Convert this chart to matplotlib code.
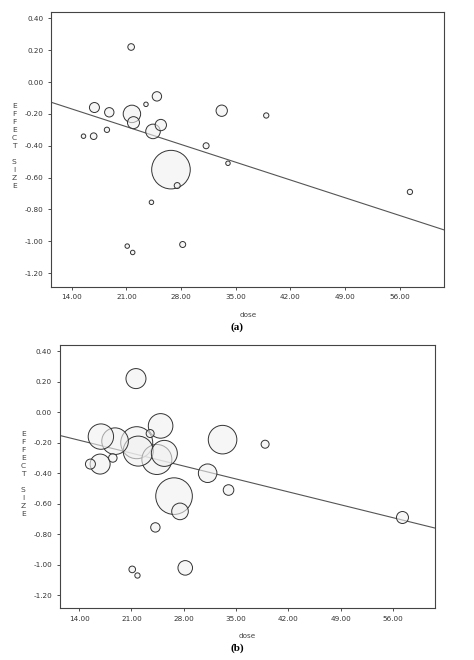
import matplotlib.pyplot as plt
import numpy as np

# study doses and effect sizes (same studies in both panels)
dose = [21.6, 16.9, 18.8, 23.5, 24.9, 21.7, 21.9, 25.4, 24.4, 18.5, 15.5, 16.8,
        33.2, 38.9, 31.2, 34.0, 26.7, 27.5, 24.2, 21.1, 21.8, 28.2, 57.3]
effect = [0.22, -0.16, -0.19, -0.14, -0.09, -0.20, -0.255, -0.27, -0.31, -0.30, -0.34, -0.34,
          -0.18, -0.21, -0.40, -0.51, -0.55, -0.65, -0.755, -1.03, -1.07, -1.02, -0.69]

# bubble weights (relative) for panel a and panel b
weight_a = [11, 25, 22, 5, 22, 76, 36, 32, 53, 7, 5, 11,
            32, 7, 9, 5, 372, 9, 5, 5, 5, 9, 7]
weight_b = [100, 161, 177, 16, 151, 256, 225, 169, 225, 18, 25, 100,
            204, 16, 86, 28, 335, 69, 22, 11, 7, 53, 36]

# meta-regression lines: intercept, slope
fit_a = (0.054, -0.01593)
fit_b = (-0.015, -0.01207)

xticks = [14, 21, 28, 35, 42, 49, 56]
yticks = [0.40, 0.20, 0.00, -0.20, -0.40, -0.60, -0.80, -1.00, -1.20]

fig = plt.figure(figsize=(4.74, 6.6), dpi=100)

panels = [
    ([0.1083, 0.5656, 0.829, 0.4158], weight_a, fit_a, '(a)', 0.504, 0.522, 0.030),
    ([0.1259, 0.0783, 0.7925, 0.3985], weight_b, fit_b, '(b)', 0.018, 0.036, 0.049),
]

for rect, w, fit, tag, tag_y, dose_y, ylab_x in panels:
    ax = fig.add_axes(rect)
    w = np.array(w, dtype=float)
    order = np.argsort(-w)
    s = w * (1.44 ** 2)  # weight ~ radius^2 (px) -> points^2
    ax.scatter(np.array(dose)[order], np.array(effect)[order], s=s[order],
               facecolor=(0.94, 0.94, 0.94, 0.6), edgecolor='#333333',
               linewidths=0.7, zorder=3)

    xl = np.array([11.38, 61.7])
    ax.plot(xl, fit[0] + fit[1] * xl, color='#555555', lw=0.8, zorder=2)

    ax.set_xlim(xl)
    ax.set_ylim(-1.285, 0.438)
    ax.set_xticks(xticks)
    ax.set_xticklabels(['%.2f' % t for t in xticks])
    ax.set_yticks(yticks)
    ax.set_yticklabels(['%.2f' % t for t in yticks])
    ax.tick_params(direction='out', length=2.5, width=0.6, labelsize=5.2,
                   colors='#333333', pad=3)
    for sp in ax.spines.values():
        sp.set_color('#444444')
        sp.set_linewidth(0.8)

    fig.text(rect[0] + rect[2] * 0.5, dose_y, 'dose', ha='center', va='center',
             fontsize=5.2, color='#444444')
    fig.text(ylab_x, rect[1] + rect[3] * 0.5 + 0.005, '\n'.join('EFFECT SIZE'),
             ha='center', va='center', fontsize=5.4, color='#444444', linespacing=1.4)
    fig.text(0.5, tag_y, tag, ha='center', va='center', fontsize=8,
             family='Liberation Serif', fontweight='bold')

plt.savefig('out.png', dpi=100)
